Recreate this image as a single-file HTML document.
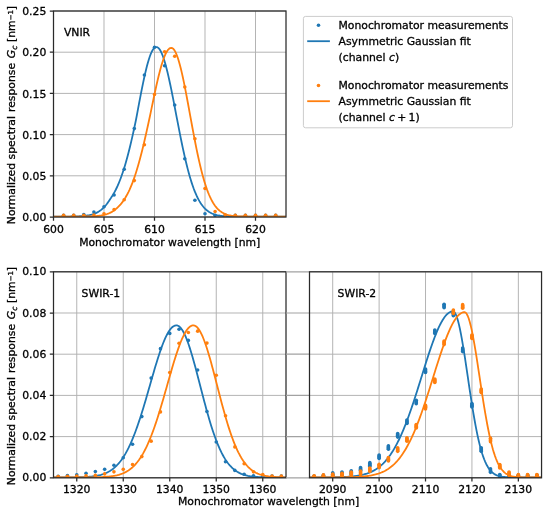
<!DOCTYPE html>
<html lang="en"><head><meta charset="utf-8"><title>Spectral response</title>
<style>html,body{margin:0;padding:0;background:#fff}svg{display:block}text{stroke:#000;stroke-width:.3px}</style></head>
<body>
<svg width="550" height="513" viewBox="0 0 550 513" font-family="'DejaVu Sans', 'Liberation Sans', sans-serif" font-size="10.82" fill="#000">
<rect width="550" height="513" fill="#fff"/>
<clipPath id="ca"><rect x="53.5" y="11" width="232.5" height="206"/></clipPath>
<path d="M53.5 11V217M104 11V217M154.5 11V217M205 11V217M255.5 11V217M53.5 217H286M53.5 175.8H286M53.5 134.6H286M53.5 93.4H286M53.5 52.2H286M53.5 11H286" stroke="#b0b0b0" stroke-width="0.95" fill="none"/>
<path d="M53.5 217v3.7M104 217v3.7M154.5 217v3.7M205 217v3.7M255.5 217v3.7M53.5 217h-3.7M53.5 175.8h-3.7M53.5 134.6h-3.7M53.5 93.4h-3.7M53.5 52.2h-3.7M53.5 11h-3.7" stroke="#2a2a2a" stroke-width="1.25" fill="none"/>
<g clip-path="url(#ca)">
<g fill="#1f77b4"><circle cx="63.6" cy="215.35" r="1.8"/><circle cx="73.7" cy="215.35" r="1.8"/><circle cx="83.8" cy="214.53" r="1.8"/><circle cx="93.9" cy="212.06" r="1.8"/><circle cx="104" cy="206.78" r="1.8"/><circle cx="114.1" cy="195" r="1.8"/><circle cx="124.2" cy="169.21" r="1.8"/><circle cx="134.3" cy="128.58" r="1.8"/><circle cx="144.4" cy="74.94" r="1.8"/><circle cx="154.5" cy="47.26" r="1.8"/><circle cx="164.6" cy="65.8" r="1.8"/><circle cx="174.7" cy="105.02" r="1.8"/><circle cx="184.8" cy="158.74" r="1.8"/><circle cx="194.9" cy="200.19" r="1.8"/><circle cx="205" cy="213.7" r="1.8"/><circle cx="215.1" cy="215.35" r="1.8"/><circle cx="225.2" cy="215.35" r="1.8"/><circle cx="235.3" cy="215.35" r="1.8"/><circle cx="245.4" cy="215.35" r="1.8"/><circle cx="255.5" cy="215.35" r="1.8"/><circle cx="265.6" cy="215.35" r="1.8"/><circle cx="275.7" cy="215.35" r="1.8"/></g>
<path d="M53.5 216.6 L54.47 216.6 L55.45 216.6 L56.42 216.6 L57.39 216.59 L58.36 216.59 L59.34 216.59 L60.31 216.59 L61.28 216.59 L62.26 216.59 L63.23 216.58 L64.2 216.58 L65.17 216.57 L66.15 216.57 L67.12 216.56 L68.09 216.56 L69.06 216.55 L70.04 216.54 L71.01 216.52 L71.98 216.51 L72.96 216.49 L73.93 216.47 L74.9 216.45 L75.87 216.42 L76.85 216.39 L77.82 216.35 L78.79 216.31 L79.77 216.26 L80.74 216.2 L81.71 216.14 L82.68 216.06 L83.66 215.97 L84.63 215.87 L85.6 215.76 L86.58 215.62 L87.55 215.47 L88.52 215.3 L89.49 215.11 L90.47 214.89 L91.44 214.65 L92.41 214.37 L93.38 214.06 L94.36 213.71 L95.33 213.31 L96.3 212.88 L97.28 212.39 L98.25 211.85 L99.22 211.25 L100.19 210.59 L101.17 209.86 L102.14 209.05 L103.11 208.17 L104.09 207.2 L105.06 206.14 L106.03 204.99 L107 203.73 L107.98 202.37 L108.95 200.89 L109.92 199.43 L110.9 198.07 L111.87 196.62 L112.84 195.06 L113.81 193.4 L114.79 191.64 L115.76 189.75 L116.73 187.75 L117.71 185.63 L118.68 183.37 L119.65 180.99 L120.62 178.46 L121.6 175.8 L122.57 172.99 L123.54 170.04 L124.51 166.94 L125.49 163.69 L126.46 160.29 L127.43 156.74 L128.41 153.04 L129.38 149.2 L130.35 145.22 L131.32 141.11 L132.3 136.86 L133.27 132.5 L134.24 128.03 L135.22 123.46 L136.19 118.77 L137.16 113.56 L138.13 108.35 L139.11 103.17 L140.08 98.05 L141.05 93.01 L142.03 88.09 L143 83.32 L143.97 78.72 L144.94 74.34 L145.92 70.19 L146.89 66.3 L147.86 62.71 L148.83 59.43 L149.81 56.5 L150.78 53.93 L151.75 51.75 L152.73 49.96 L153.7 48.59 L154.67 47.64 L155.64 47.12 L156.62 47.04 L157.59 47.37 L158.56 48.12 L159.54 49.27 L160.51 50.82 L161.48 52.75 L162.45 55.06 L163.43 57.72 L164.4 60.72 L165.37 64.03 L166.35 67.64 L167.32 71.51 L168.29 75.63 L169.26 79.97 L170.24 84.5 L171.21 89.19 L172.18 94.01 L173.15 98.93 L174.13 103.93 L175.1 108.99 L176.07 114.07 L177.05 119.14 L178.02 124.19 L178.99 129.19 L179.96 134.12 L180.94 138.97 L181.91 143.71 L182.88 148.32 L183.86 152.8 L184.83 157.13 L185.8 161.3 L186.77 165.31 L187.75 169.14 L188.72 172.79 L189.69 176.26 L190.67 179.54 L191.64 182.64 L192.61 185.56 L193.58 188.29 L194.56 190.85 L195.53 193.23 L196.5 195.45 L197.47 197.5 L198.45 199.39 L199.42 201.14 L200.39 202.74 L201.37 204.2 L202.34 205.54 L203.31 206.76 L204.28 207.86 L205.26 208.86 L206.23 209.77 L207.2 210.58 L208.18 211.31 L209.15 211.96 L210.12 212.54 L211.09 213.06 L212.07 213.51 L213.04 213.92 L214.01 214.28 L214.99 214.59 L215.96 214.87 L216.93 215.11 L217.9 215.32 L218.88 215.51 L219.85 215.67 L220.82 215.81 L221.79 215.93 L222.77 216.03 L223.74 216.12 L224.71 216.19 L225.69 216.26 L226.66 216.31 L227.63 216.36 L228.6 216.4 L229.58 216.43 L230.55 216.46 L231.52 216.48 L232.5 216.5 L233.47 216.52 L234.44 216.54 L235.41 216.55 L236.39 216.56 L237.36 216.56 L238.33 216.57 L239.31 216.58 L240.28 216.58 L241.25 216.58 L242.22 216.59 L243.2 216.59 L244.17 216.59 L245.14 216.59 L246.12 216.59 L247.09 216.6 L248.06 216.6 L249.03 216.6 L250.01 216.6 L250.98 216.6 L251.95 216.6 L252.92 216.6 L253.9 216.6 L254.87 216.6 L255.84 216.6 L256.82 216.6 L257.79 216.6 L258.76 216.6 L259.73 216.6 L260.71 216.6 L261.68 216.6 L262.65 216.6 L263.63 216.6 L264.6 216.6 L265.57 216.6 L266.54 216.6 L267.52 216.6 L268.49 216.6 L269.46 216.6 L270.44 216.6 L271.41 216.6 L272.38 216.6 L273.35 216.6 L274.33 216.6 L275.3 216.6 L276.27 216.6 L277.24 216.6 L278.22 216.6 L279.19 216.6 L280.16 216.6 L281.14 216.6 L282.11 216.6 L283.08 216.6 L284.05 216.6 L285.03 216.6 L286 216.6" stroke="#1f77b4" stroke-width="1.8" fill="none" stroke-linejoin="round" stroke-linecap="square"/>
<g fill="#ff7f0e"><circle cx="63.6" cy="215.35" r="1.8"/><circle cx="73.7" cy="215.35" r="1.8"/><circle cx="83.8" cy="215.35" r="1.8"/><circle cx="93.9" cy="214.94" r="1.8"/><circle cx="104" cy="213.7" r="1.8"/><circle cx="114.1" cy="209.58" r="1.8"/><circle cx="124.2" cy="199.78" r="1.8"/><circle cx="134.3" cy="180.58" r="1.8"/><circle cx="144.4" cy="144.74" r="1.8"/><circle cx="154.5" cy="94.55" r="1.8"/><circle cx="164.6" cy="51.71" r="1.8"/><circle cx="174.7" cy="56.32" r="1.8"/><circle cx="184.8" cy="87.06" r="1.8"/><circle cx="194.9" cy="138.72" r="1.8"/><circle cx="205" cy="188.49" r="1.8"/><circle cx="215.1" cy="211.56" r="1.8"/><circle cx="225.2" cy="214.94" r="1.8"/><circle cx="235.3" cy="215.35" r="1.8"/><circle cx="245.4" cy="215.35" r="1.8"/><circle cx="255.5" cy="215.35" r="1.8"/><circle cx="265.6" cy="215.35" r="1.8"/><circle cx="275.7" cy="215.35" r="1.8"/></g>
<path d="M53.5 216.6 L54.47 216.6 L55.45 216.6 L56.42 216.6 L57.39 216.6 L58.36 216.6 L59.34 216.6 L60.31 216.6 L61.28 216.6 L62.26 216.6 L63.23 216.6 L64.2 216.6 L65.17 216.6 L66.15 216.6 L67.12 216.6 L68.09 216.6 L69.06 216.6 L70.04 216.59 L71.01 216.59 L71.98 216.59 L72.96 216.59 L73.93 216.59 L74.9 216.59 L75.87 216.58 L76.85 216.58 L77.82 216.58 L78.79 216.57 L79.77 216.56 L80.74 216.56 L81.71 216.55 L82.68 216.54 L83.66 216.53 L84.63 216.52 L85.6 216.5 L86.58 216.48 L87.55 216.46 L88.52 216.44 L89.49 216.41 L90.47 216.37 L91.44 216.33 L92.41 216.29 L93.38 216.24 L94.36 216.18 L95.33 216.11 L96.3 216.03 L97.28 215.94 L98.25 215.84 L99.22 215.72 L100.19 215.59 L101.17 215.44 L102.14 215.26 L103.11 215.07 L104.09 214.85 L105.06 214.61 L106.03 214.33 L107 214.02 L107.98 213.68 L108.95 213.29 L109.92 212.87 L110.9 212.39 L111.87 211.86 L112.84 211.28 L113.81 210.64 L114.79 209.93 L115.76 209.15 L116.73 208.3 L117.71 207.36 L118.68 206.39 L119.65 205.39 L120.62 204.31 L121.6 203.14 L122.57 201.88 L123.54 200.52 L124.51 199.07 L125.49 197.5 L126.46 195.82 L127.43 194.03 L128.41 192.11 L129.38 190.07 L130.35 187.9 L131.32 185.6 L132.3 183.16 L133.27 180.58 L134.24 177.86 L135.22 175 L136.19 172 L137.16 168.85 L138.13 165.56 L139.11 162.12 L140.08 158.55 L141.05 154.85 L142.03 151.01 L143 147.05 L143.97 142.98 L144.94 138.8 L145.92 134.52 L146.89 130.16 L147.86 125.72 L148.83 121.23 L149.81 116.69 L150.78 112.12 L151.75 107.43 L152.73 102.7 L153.7 98.03 L154.67 93.44 L155.64 88.95 L156.62 84.57 L157.59 80.34 L158.56 76.29 L159.54 72.42 L160.51 68.77 L161.48 65.35 L162.45 62.19 L163.43 59.3 L164.4 56.7 L165.37 54.42 L166.35 52.45 L167.32 50.83 L168.29 49.54 L169.26 48.62 L170.24 48.05 L171.21 47.85 L172.18 48.05 L173.15 48.71 L174.13 49.81 L175.1 51.36 L176.07 53.34 L177.05 55.73 L178.02 58.52 L178.99 61.67 L179.96 65.18 L180.94 69.01 L181.91 73.12 L182.88 77.51 L183.86 82.12 L184.83 86.93 L185.8 91.91 L186.77 97.02 L187.75 102.23 L188.72 107.52 L189.69 112.84 L190.67 118.16 L191.64 123.47 L192.61 128.73 L193.58 133.91 L194.56 139 L195.53 143.98 L196.5 148.82 L197.47 153.51 L198.45 158.03 L199.42 162.38 L200.39 166.54 L201.37 170.5 L202.34 174.27 L203.31 177.83 L204.28 181.19 L205.26 184.35 L206.23 187.3 L207.2 190.06 L208.18 192.62 L209.15 194.99 L210.12 197.18 L211.09 199.2 L212.07 201.05 L213.04 202.74 L214.01 204.28 L214.99 205.68 L215.96 206.94 L216.93 208.08 L217.9 209.11 L218.88 210.03 L219.85 210.86 L220.82 211.59 L221.79 212.24 L222.77 212.82 L223.74 213.33 L224.71 213.78 L225.69 214.17 L226.66 214.52 L227.63 214.82 L228.6 215.08 L229.58 215.3 L230.55 215.5 L231.52 215.67 L232.5 215.81 L233.47 215.94 L234.44 216.04 L235.41 216.13 L236.39 216.21 L237.36 216.28 L238.33 216.33 L239.31 216.38 L240.28 216.42 L241.25 216.45 L242.22 216.48 L243.2 216.5 L244.17 216.52 L245.14 216.53 L246.12 216.54 L247.09 216.56 L248.06 216.56 L249.03 216.57 L250.01 216.58 L250.98 216.58 L251.95 216.58 L252.92 216.59 L253.9 216.59 L254.87 216.59 L255.84 216.59 L256.82 216.6 L257.79 216.6 L258.76 216.6 L259.73 216.6 L260.71 216.6 L261.68 216.6 L262.65 216.6 L263.63 216.6 L264.6 216.6 L265.57 216.6 L266.54 216.6 L267.52 216.6 L268.49 216.6 L269.46 216.6 L270.44 216.6 L271.41 216.6 L272.38 216.6 L273.35 216.6 L274.33 216.6 L275.3 216.6 L276.27 216.6 L277.24 216.6 L278.22 216.6 L279.19 216.6 L280.16 216.6 L281.14 216.6 L282.11 216.6 L283.08 216.6 L284.05 216.6 L285.03 216.6 L286 216.6" stroke="#ff7f0e" stroke-width="1.8" fill="none" stroke-linejoin="round" stroke-linecap="square"/>
</g>
<rect x="53.5" y="11" width="232.5" height="206" fill="none" stroke="#2a2a2a" stroke-width="1.25"/>
<text x="53.5" y="232.6" text-anchor="middle">600</text>
<text x="104" y="232.6" text-anchor="middle">605</text>
<text x="154.5" y="232.6" text-anchor="middle">610</text>
<text x="205" y="232.6" text-anchor="middle">615</text>
<text x="255.5" y="232.6" text-anchor="middle">620</text>
<text x="46.3" y="221.25" text-anchor="end">0.00</text>
<text x="46.3" y="180.05" text-anchor="end">0.05</text>
<text x="46.3" y="138.85" text-anchor="end">0.10</text>
<text x="46.3" y="97.65" text-anchor="end">0.15</text>
<text x="46.3" y="56.45" text-anchor="end">0.20</text>
<text x="46.3" y="15.25" text-anchor="end">0.25</text>
<text x="63.9" y="35.8">VNIR</text>
<clipPath id="cb"><rect x="53.5" y="271.8" width="232.5" height="206"/></clipPath>
<path d="M76.75 271.8V477.8M123.25 271.8V477.8M169.75 271.8V477.8M216.25 271.8V477.8M262.75 271.8V477.8M53.5 477.8H286M53.5 436.6H286M53.5 395.4H286M53.5 354.2H286M53.5 313H286M53.5 271.8H286" stroke="#b0b0b0" stroke-width="0.95" fill="none"/>
<path d="M76.75 477.8v3.7M123.25 477.8v3.7M169.75 477.8v3.7M216.25 477.8v3.7M262.75 477.8v3.7M53.5 477.8h-3.7M53.5 436.6h-3.7M53.5 395.4h-3.7M53.5 354.2h-3.7M53.5 313h-3.7M53.5 271.8h-3.7" stroke="#2a2a2a" stroke-width="1.25" fill="none"/>
<g clip-path="url(#cb)">
<g fill="#1f77b4"><circle cx="58.15" cy="476.36" r="1.8"/><circle cx="67.45" cy="475.53" r="1.8"/><circle cx="76.75" cy="474.71" r="1.8"/><circle cx="86.05" cy="473.27" r="1.8"/><circle cx="95.35" cy="471.62" r="1.8"/><circle cx="104.65" cy="469.35" r="1.8"/><circle cx="113.95" cy="465.23" r="1.8"/><circle cx="123.25" cy="457.82" r="1.8"/><circle cx="132.55" cy="444.22" r="1.8"/><circle cx="141.85" cy="416.62" r="1.8"/><circle cx="151.15" cy="378.1" r="1.8"/><circle cx="160.45" cy="348.64" r="1.8"/><circle cx="169.75" cy="333.39" r="1.8"/><circle cx="179.05" cy="329.27" r="1.8"/><circle cx="188.35" cy="340.4" r="1.8"/><circle cx="197.65" cy="370.06" r="1.8"/><circle cx="206.95" cy="411.47" r="1.8"/><circle cx="216.25" cy="441.96" r="1.8"/><circle cx="225.55" cy="461.73" r="1.8"/><circle cx="234.85" cy="470.38" r="1.8"/><circle cx="244.15" cy="474.3" r="1.8"/><circle cx="253.45" cy="475.74" r="1.8"/><circle cx="262.75" cy="476.15" r="1.8"/><circle cx="272.05" cy="476.15" r="1.8"/><circle cx="281.35" cy="476.15" r="1.8"/></g>
<path d="M53.5 477.4 L54.47 477.4 L55.45 477.4 L56.42 477.39 L57.39 477.39 L58.36 477.39 L59.34 477.39 L60.31 477.39 L61.28 477.39 L62.26 477.39 L63.23 477.38 L64.2 477.38 L65.17 477.38 L66.15 477.37 L67.12 477.37 L68.09 477.37 L69.06 477.36 L70.04 477.35 L71.01 477.35 L71.98 477.34 L72.96 477.33 L73.93 477.32 L74.9 477.3 L75.87 477.29 L76.85 477.27 L77.82 477.26 L78.79 477.23 L79.77 477.21 L80.74 477.18 L81.71 477.15 L82.68 477.12 L83.66 477.08 L84.63 477.03 L85.6 476.98 L86.58 476.93 L87.55 476.87 L88.52 476.8 L89.49 476.72 L90.47 476.63 L91.44 476.53 L92.41 476.43 L93.38 476.31 L94.36 476.17 L95.33 476.02 L96.3 475.86 L97.28 475.68 L98.25 475.48 L99.22 475.26 L100.19 475.02 L101.17 474.76 L102.14 474.47 L103.11 474.15 L104.09 473.8 L105.06 473.42 L106.03 473.01 L107 472.56 L107.98 472.07 L108.95 471.54 L109.92 470.97 L110.9 470.35 L111.87 469.68 L112.84 468.96 L113.81 468.19 L114.79 467.35 L115.76 466.46 L116.73 465.5 L117.71 464.48 L118.68 463.39 L119.65 462.23 L120.62 460.99 L121.6 459.67 L122.57 458.28 L123.54 456.81 L124.51 455.25 L125.49 453.6 L126.46 451.87 L127.43 450.05 L128.41 448.14 L129.38 446.14 L130.35 444.04 L131.32 441.86 L132.3 439.58 L133.27 437.21 L134.24 434.75 L135.22 432.2 L136.19 429.56 L137.16 426.84 L138.13 424.04 L139.11 421.15 L140.08 418.2 L141.05 415.17 L142.03 412.07 L143 408.91 L143.97 405.7 L144.94 402.44 L145.92 399.14 L146.89 395.8 L147.86 392.43 L148.83 389.05 L149.81 385.66 L150.78 382.26 L151.75 378.87 L152.73 375.5 L153.7 372.16 L154.67 368.86 L155.64 365.6 L156.62 362.41 L157.59 359.28 L158.56 356.23 L159.54 353.27 L160.51 350.41 L161.48 347.66 L162.45 345.03 L163.43 342.53 L164.4 340.17 L165.37 337.96 L166.35 335.9 L167.32 334.01 L168.29 332.29 L169.26 330.75 L170.24 329.39 L171.21 328.23 L172.18 327.26 L173.15 326.48 L174.13 325.91 L175.1 325.54 L176.07 325.38 L177.05 325.44 L178.02 325.75 L178.99 326.31 L179.96 327.12 L180.94 328.19 L181.91 329.49 L182.88 331.03 L183.86 332.79 L184.83 334.78 L185.8 336.97 L186.77 339.36 L187.75 341.94 L188.72 344.7 L189.69 347.62 L190.67 350.68 L191.64 353.89 L192.61 357.21 L193.58 360.64 L194.56 364.17 L195.53 367.77 L196.5 371.43 L197.47 375.15 L198.45 378.9 L199.42 382.67 L200.39 386.46 L201.37 390.23 L202.34 393.99 L203.31 397.73 L204.28 401.42 L205.26 405.07 L206.23 408.65 L207.2 412.17 L208.18 415.61 L209.15 418.97 L210.12 422.24 L211.09 425.41 L212.07 428.48 L213.04 431.45 L214.01 434.31 L214.99 437.07 L215.96 439.7 L216.93 442.23 L217.9 444.64 L218.88 446.94 L219.85 449.12 L220.82 451.19 L221.79 453.16 L222.77 455.01 L223.74 456.75 L224.71 458.39 L225.69 459.93 L226.66 461.37 L227.63 462.72 L228.6 463.98 L229.58 465.15 L230.55 466.24 L231.52 467.24 L232.5 468.18 L233.47 469.04 L234.44 469.83 L235.41 470.56 L236.39 471.23 L237.36 471.84 L238.33 472.4 L239.31 472.91 L240.28 473.38 L241.25 473.8 L242.22 474.19 L243.2 474.54 L244.17 474.85 L245.14 475.14 L246.12 475.39 L247.09 475.62 L248.06 475.83 L249.03 476.01 L250.01 476.18 L250.98 476.32 L251.95 476.46 L252.92 476.57 L253.9 476.68 L254.87 476.77 L255.84 476.85 L256.82 476.92 L257.79 476.98 L258.76 477.04 L259.73 477.09 L260.71 477.13 L261.68 477.17 L262.65 477.2 L263.63 477.23 L264.6 477.25 L265.57 477.27 L266.54 477.29 L267.52 477.31 L268.49 477.32 L269.46 477.33 L270.44 477.34 L271.41 477.35 L272.38 477.36 L273.35 477.36 L274.33 477.37 L275.3 477.37 L276.27 477.38 L277.24 477.38 L278.22 477.39 L279.19 477.39 L280.16 477.39 L281.14 477.39 L282.11 477.39 L283.08 477.39 L284.05 477.39 L285.03 477.4 L286 477.4" stroke="#1f77b4" stroke-width="1.8" fill="none" stroke-linejoin="round" stroke-linecap="square"/>
<g fill="#ff7f0e"><circle cx="58.15" cy="476.56" r="1.8"/><circle cx="67.45" cy="476.36" r="1.8"/><circle cx="76.75" cy="476.15" r="1.8"/><circle cx="86.05" cy="475.74" r="1.8"/><circle cx="95.35" cy="475.33" r="1.8"/><circle cx="104.65" cy="473.89" r="1.8"/><circle cx="113.95" cy="471.83" r="1.8"/><circle cx="123.25" cy="469.35" r="1.8"/><circle cx="132.55" cy="464.62" r="1.8"/><circle cx="141.85" cy="456.58" r="1.8"/><circle cx="151.15" cy="441.13" r="1.8"/><circle cx="160.45" cy="411.88" r="1.8"/><circle cx="169.75" cy="372.53" r="1.8"/><circle cx="179.05" cy="343.28" r="1.8"/><circle cx="188.35" cy="332.57" r="1.8"/><circle cx="197.65" cy="331.13" r="1.8"/><circle cx="206.95" cy="343.08" r="1.8"/><circle cx="216.25" cy="375.21" r="1.8"/><circle cx="225.55" cy="415.79" r="1.8"/><circle cx="234.85" cy="446.9" r="1.8"/><circle cx="244.15" cy="463.79" r="1.8"/><circle cx="253.45" cy="471.83" r="1.8"/><circle cx="262.75" cy="474.5" r="1.8"/><circle cx="272.05" cy="475.95" r="1.8"/><circle cx="281.35" cy="475.95" r="1.8"/></g>
<path d="M53.5 477.4 L54.47 477.4 L55.45 477.4 L56.42 477.4 L57.39 477.4 L58.36 477.4 L59.34 477.4 L60.31 477.4 L61.28 477.4 L62.26 477.4 L63.23 477.4 L64.2 477.4 L65.17 477.4 L66.15 477.4 L67.12 477.4 L68.09 477.4 L69.06 477.4 L70.04 477.4 L71.01 477.4 L71.98 477.4 L72.96 477.4 L73.93 477.4 L74.9 477.39 L75.87 477.39 L76.85 477.39 L77.82 477.39 L78.79 477.39 L79.77 477.39 L80.74 477.39 L81.71 477.38 L82.68 477.38 L83.66 477.38 L84.63 477.37 L85.6 477.37 L86.58 477.36 L87.55 477.36 L88.52 477.35 L89.49 477.34 L90.47 477.33 L91.44 477.32 L92.41 477.31 L93.38 477.3 L94.36 477.28 L95.33 477.27 L96.3 477.25 L97.28 477.22 L98.25 477.2 L99.22 477.17 L100.19 477.13 L101.17 477.1 L102.14 477.05 L103.11 477.01 L104.09 476.95 L105.06 476.89 L106.03 476.83 L107 476.75 L107.98 476.67 L108.95 476.57 L109.92 476.47 L110.9 476.35 L111.87 476.22 L112.84 476.07 L113.81 475.91 L114.79 475.74 L115.76 475.54 L116.73 475.33 L117.71 475.09 L118.68 474.83 L119.65 474.54 L120.62 474.23 L121.6 473.88 L122.57 473.51 L123.54 473.1 L124.51 472.65 L125.49 472.17 L126.46 471.64 L127.43 471.07 L128.41 470.45 L129.38 469.78 L130.35 469.06 L131.32 468.29 L132.3 467.45 L133.27 466.56 L134.24 465.6 L135.22 464.57 L136.19 463.47 L137.16 462.3 L138.13 461.06 L139.11 459.73 L140.08 458.33 L141.05 456.84 L142.03 455.26 L143 453.6 L143.97 451.85 L144.94 450.01 L145.92 448.07 L146.89 446.05 L147.86 443.93 L148.83 441.71 L149.81 439.4 L150.78 437 L151.75 434.51 L152.73 431.92 L153.7 429.25 L154.67 426.48 L155.64 423.64 L156.62 420.71 L157.59 417.71 L158.56 414.64 L159.54 411.5 L160.51 408.3 L161.48 405.04 L162.45 401.74 L163.43 398.39 L164.4 395.01 L165.37 391.6 L166.35 388.18 L167.32 384.75 L168.29 381.32 L169.26 377.9 L170.24 374.5 L171.21 371.13 L172.18 367.81 L173.15 364.54 L174.13 361.33 L175.1 358.19 L176.07 355.14 L177.05 352.18 L178.02 349.34 L178.99 346.6 L179.96 344 L180.94 341.53 L181.91 339.21 L182.88 337.04 L183.86 335.03 L184.83 333.2 L185.8 331.54 L186.77 330.08 L187.75 328.8 L188.72 327.71 L189.69 326.83 L190.67 326.16 L191.64 325.69 L192.61 325.43 L193.58 325.38 L194.56 325.58 L195.53 326.03 L196.5 326.73 L197.47 327.68 L198.45 328.88 L199.42 330.31 L200.39 331.98 L201.37 333.86 L202.34 335.97 L203.31 338.27 L204.28 340.77 L205.26 343.45 L206.23 346.29 L207.2 349.3 L208.18 352.44 L209.15 355.71 L210.12 359.1 L211.09 362.58 L212.07 366.15 L213.04 369.79 L214.01 373.48 L214.99 377.22 L215.96 380.98 L216.93 384.76 L217.9 388.55 L218.88 392.32 L219.85 396.06 L220.82 399.78 L221.79 403.44 L222.77 407.06 L223.74 410.6 L224.71 414.08 L225.69 417.48 L226.66 420.79 L227.63 424 L228.6 427.12 L229.58 430.14 L230.55 433.05 L231.52 435.85 L232.5 438.54 L233.47 441.12 L234.44 443.58 L235.41 445.93 L236.39 448.16 L237.36 450.28 L238.33 452.29 L239.31 454.19 L240.28 455.98 L241.25 457.67 L242.22 459.26 L243.2 460.74 L244.17 462.13 L245.14 463.43 L246.12 464.64 L247.09 465.76 L248.06 466.8 L249.03 467.77 L250.01 468.66 L250.98 469.48 L251.95 470.24 L252.92 470.94 L253.9 471.57 L254.87 472.16 L255.84 472.69 L256.82 473.18 L257.79 473.62 L258.76 474.02 L259.73 474.39 L260.71 474.72 L261.68 475.01 L262.65 475.28 L263.63 475.52 L264.6 475.74 L265.57 475.93 L266.54 476.11 L267.52 476.26 L268.49 476.4 L269.46 476.52 L270.44 476.63 L271.41 476.73 L272.38 476.81 L273.35 476.89 L274.33 476.95 L275.3 477.01 L276.27 477.06 L277.24 477.11 L278.22 477.15 L279.19 477.18 L280.16 477.21 L281.14 477.24 L282.11 477.26 L283.08 477.28 L284.05 477.3 L285.03 477.31 L286 477.33" stroke="#ff7f0e" stroke-width="1.8" fill="none" stroke-linejoin="round" stroke-linecap="square"/>
</g>
<rect x="53.5" y="271.8" width="232.5" height="206" fill="none" stroke="#2a2a2a" stroke-width="1.25"/>
<text x="76.75" y="493.4" text-anchor="middle">1320</text>
<text x="123.25" y="493.4" text-anchor="middle">1330</text>
<text x="169.75" y="493.4" text-anchor="middle">1340</text>
<text x="216.25" y="493.4" text-anchor="middle">1350</text>
<text x="262.75" y="493.4" text-anchor="middle">1360</text>
<text x="46.3" y="481.4" text-anchor="end">0.00</text>
<text x="46.3" y="440.2" text-anchor="end">0.02</text>
<text x="46.3" y="399" text-anchor="end">0.04</text>
<text x="46.3" y="357.8" text-anchor="end">0.06</text>
<text x="46.3" y="316.6" text-anchor="end">0.08</text>
<text x="46.3" y="275.4" text-anchor="end">0.10</text>
<text x="81.6" y="296.8">SWIR-1</text>
<path d="M286 477.8H309.5M286 436.6H309.5M286 395.4H309.5M286 354.2H309.5M286 313H309.5M286 271.8H309.5" stroke="#a2a2a2" stroke-width="1.2" fill="none"/>
<clipPath id="cc"><rect x="309.5" y="271.8" width="232.05" height="206"/></clipPath>
<path d="M332.7 271.8V477.8M379.12 271.8V477.8M425.52 271.8V477.8M471.93 271.8V477.8M518.35 271.8V477.8M309.5 477.8H541.55M309.5 436.6H541.55M309.5 395.4H541.55M309.5 354.2H541.55M309.5 313H541.55M309.5 271.8H541.55" stroke="#b0b0b0" stroke-width="0.95" fill="none"/>
<path d="M332.7 477.8v3.7M379.12 477.8v3.7M425.52 477.8v3.7M471.93 477.8v3.7M518.35 477.8v3.7" stroke="#2a2a2a" stroke-width="1.25" fill="none"/>
<g clip-path="url(#cc)">
<g fill="#1f77b4"><circle cx="314.14" cy="477.39" r="1.8"/><circle cx="314.14" cy="477.08" r="1.8"/><circle cx="314.14" cy="476.77" r="1.8"/><circle cx="314.14" cy="476.46" r="1.8"/><circle cx="314.14" cy="476.15" r="1.8"/><circle cx="323.42" cy="477.14" r="1.8"/><circle cx="323.42" cy="476.65" r="1.8"/><circle cx="323.42" cy="476.15" r="1.8"/><circle cx="323.42" cy="475.66" r="1.8"/><circle cx="323.42" cy="475.16" r="1.8"/><circle cx="332.7" cy="476.25" r="1.8"/><circle cx="332.7" cy="475.38" r="1.8"/><circle cx="332.7" cy="474.5" r="1.8"/><circle cx="332.7" cy="473.63" r="1.8"/><circle cx="332.7" cy="472.75" r="1.8"/><circle cx="341.99" cy="475.43" r="1.8"/><circle cx="341.99" cy="474.56" r="1.8"/><circle cx="341.99" cy="473.68" r="1.8"/><circle cx="341.99" cy="472.8" r="1.8"/><circle cx="341.99" cy="471.93" r="1.8"/><circle cx="351.27" cy="474.19" r="1.8"/><circle cx="351.27" cy="473.32" r="1.8"/><circle cx="351.27" cy="472.44" r="1.8"/><circle cx="351.27" cy="471.57" r="1.8"/><circle cx="351.27" cy="470.69" r="1.8"/><circle cx="360.55" cy="471.11" r="1.8"/><circle cx="360.55" cy="470.23" r="1.8"/><circle cx="360.55" cy="469.35" r="1.8"/><circle cx="360.55" cy="468.48" r="1.8"/><circle cx="360.55" cy="467.6" r="1.8"/><circle cx="369.83" cy="466.16" r="1.8"/><circle cx="369.83" cy="465.29" r="1.8"/><circle cx="369.83" cy="464.41" r="1.8"/><circle cx="369.83" cy="463.53" r="1.8"/><circle cx="369.83" cy="462.66" r="1.8"/><circle cx="379.12" cy="458.54" r="1.8"/><circle cx="379.12" cy="457.66" r="1.8"/><circle cx="379.12" cy="456.79" r="1.8"/><circle cx="379.12" cy="455.91" r="1.8"/><circle cx="379.12" cy="455.04" r="1.8"/><circle cx="388.4" cy="449.27" r="1.8"/><circle cx="388.4" cy="448.39" r="1.8"/><circle cx="388.4" cy="447.52" r="1.8"/><circle cx="388.4" cy="446.64" r="1.8"/><circle cx="388.4" cy="445.77" r="1.8"/><circle cx="397.68" cy="437.12" r="1.8"/><circle cx="397.68" cy="436.24" r="1.8"/><circle cx="397.68" cy="435.36" r="1.8"/><circle cx="397.68" cy="434.49" r="1.8"/><circle cx="397.68" cy="433.61" r="1.8"/><circle cx="406.96" cy="423.52" r="1.8"/><circle cx="406.96" cy="422.64" r="1.8"/><circle cx="406.96" cy="421.77" r="1.8"/><circle cx="406.96" cy="420.89" r="1.8"/><circle cx="406.96" cy="420.02" r="1.8"/><circle cx="416.24" cy="403.74" r="1.8"/><circle cx="416.24" cy="402.87" r="1.8"/><circle cx="416.24" cy="401.99" r="1.8"/><circle cx="416.24" cy="401.12" r="1.8"/><circle cx="416.24" cy="400.24" r="1.8"/><circle cx="425.52" cy="372.43" r="1.8"/><circle cx="425.52" cy="371.56" r="1.8"/><circle cx="425.52" cy="370.68" r="1.8"/><circle cx="425.52" cy="369.8" r="1.8"/><circle cx="425.52" cy="368.93" r="1.8"/><circle cx="434.81" cy="333.5" r="1.8"/><circle cx="434.81" cy="332.62" r="1.8"/><circle cx="434.81" cy="331.75" r="1.8"/><circle cx="434.81" cy="330.87" r="1.8"/><circle cx="434.81" cy="330" r="1.8"/><circle cx="444.09" cy="307.75" r="1.8"/><circle cx="444.09" cy="306.87" r="1.8"/><circle cx="444.09" cy="306" r="1.8"/><circle cx="444.09" cy="305.12" r="1.8"/><circle cx="444.09" cy="304.25" r="1.8"/><circle cx="453.37" cy="315.78" r="1.8"/><circle cx="453.37" cy="314.91" r="1.8"/><circle cx="453.37" cy="314.03" r="1.8"/><circle cx="453.37" cy="313.15" r="1.8"/><circle cx="453.37" cy="312.28" r="1.8"/><circle cx="462.65" cy="351.62" r="1.8"/><circle cx="462.65" cy="350.75" r="1.8"/><circle cx="462.65" cy="349.87" r="1.8"/><circle cx="462.65" cy="349" r="1.8"/><circle cx="462.65" cy="348.12" r="1.8"/><circle cx="471.93" cy="407.04" r="1.8"/><circle cx="471.93" cy="406.16" r="1.8"/><circle cx="471.93" cy="405.29" r="1.8"/><circle cx="471.93" cy="404.41" r="1.8"/><circle cx="471.93" cy="403.54" r="1.8"/><circle cx="481.22" cy="451.33" r="1.8"/><circle cx="481.22" cy="450.45" r="1.8"/><circle cx="481.22" cy="449.58" r="1.8"/><circle cx="481.22" cy="448.7" r="1.8"/><circle cx="481.22" cy="447.83" r="1.8"/><circle cx="490.5" cy="472.34" r="1.8"/><circle cx="490.5" cy="471.47" r="1.8"/><circle cx="490.5" cy="470.59" r="1.8"/><circle cx="490.5" cy="469.71" r="1.8"/><circle cx="490.5" cy="468.84" r="1.8"/><circle cx="499.78" cy="476.98" r="1.8"/><circle cx="499.78" cy="476.36" r="1.8"/><circle cx="499.78" cy="475.74" r="1.8"/><circle cx="499.78" cy="475.12" r="1.8"/><circle cx="499.78" cy="474.5" r="1.8"/><circle cx="509.06" cy="477.14" r="1.8"/><circle cx="509.06" cy="476.65" r="1.8"/><circle cx="509.06" cy="476.15" r="1.8"/><circle cx="509.06" cy="475.66" r="1.8"/><circle cx="509.06" cy="475.16" r="1.8"/><circle cx="518.35" cy="477.14" r="1.8"/><circle cx="518.35" cy="476.65" r="1.8"/><circle cx="518.35" cy="476.15" r="1.8"/><circle cx="518.35" cy="475.66" r="1.8"/><circle cx="518.35" cy="475.16" r="1.8"/><circle cx="527.63" cy="477.14" r="1.8"/><circle cx="527.63" cy="476.65" r="1.8"/><circle cx="527.63" cy="476.15" r="1.8"/><circle cx="527.63" cy="475.66" r="1.8"/><circle cx="527.63" cy="475.16" r="1.8"/><circle cx="536.91" cy="477.14" r="1.8"/><circle cx="536.91" cy="476.65" r="1.8"/><circle cx="536.91" cy="476.15" r="1.8"/><circle cx="536.91" cy="475.66" r="1.8"/><circle cx="536.91" cy="475.16" r="1.8"/></g>
<path d="M309.5 477.4 L310.47 477.39 L311.44 477.39 L312.41 477.39 L313.38 477.39 L314.35 477.39 L315.33 477.39 L316.3 477.39 L317.27 477.39 L318.24 477.38 L319.21 477.38 L320.18 477.38 L321.15 477.38 L322.12 477.37 L323.09 477.37 L324.06 477.36 L325.03 477.36 L326.01 477.35 L326.98 477.35 L327.95 477.34 L328.92 477.33 L329.89 477.33 L330.86 477.32 L331.83 477.31 L332.8 477.29 L333.77 477.28 L334.74 477.26 L335.71 477.25 L336.69 477.23 L337.66 477.21 L338.63 477.19 L339.6 477.16 L340.57 477.13 L341.54 477.1 L342.51 477.07 L343.48 477.03 L344.45 476.99 L345.42 476.94 L346.39 476.89 L347.37 476.83 L348.34 476.77 L349.31 476.7 L350.28 476.62 L351.25 476.54 L352.22 476.45 L353.19 476.35 L354.16 476.24 L355.13 476.13 L356.1 476 L357.08 475.86 L358.05 475.71 L359.02 475.54 L359.99 475.36 L360.96 475.16 L361.93 474.95 L362.9 474.72 L363.87 474.48 L364.84 474.21 L365.81 473.92 L366.78 473.61 L367.76 473.27 L368.73 472.91 L369.7 472.52 L370.67 472.11 L371.64 471.66 L372.61 471.18 L373.58 470.67 L374.55 470.13 L375.52 469.54 L376.49 468.92 L377.46 468.26 L378.44 467.56 L379.41 466.81 L380.38 466.02 L381.35 465.18 L382.32 464.29 L383.29 463.35 L384.26 462.35 L385.23 461.3 L386.2 460.19 L387.17 459.03 L388.14 457.8 L389.12 456.52 L390.09 455.17 L391.06 453.75 L392.03 452.27 L393 450.73 L393.97 449.11 L394.94 447.43 L395.91 445.67 L396.88 443.85 L397.85 441.95 L398.82 439.99 L399.8 437.95 L400.77 435.84 L401.74 433.66 L402.71 431.41 L403.68 429.1 L404.65 426.71 L405.62 424.26 L406.59 421.74 L407.56 419.16 L408.53 416.51 L409.5 413.81 L410.48 411.05 L411.45 408.24 L412.42 405.38 L413.39 402.47 L414.36 399.52 L415.33 396.53 L416.3 393.51 L417.27 390.46 L418.24 387.38 L419.21 384.29 L420.18 381.18 L421.16 378.06 L422.13 374.94 L423.1 371.82 L424.07 368.71 L425.04 365.62 L426.01 362.55 L426.98 359.51 L427.95 356.5 L428.92 353.54 L429.89 350.63 L430.87 347.77 L431.84 344.98 L432.81 342.25 L433.78 339.6 L434.75 337.04 L435.72 334.56 L436.69 332.18 L437.66 329.91 L438.63 327.74 L439.6 325.68 L440.57 323.74 L441.55 321.93 L442.52 320.25 L443.49 318.7 L444.46 317.29 L445.43 316.03 L446.4 314.91 L447.37 313.94 L448.34 313.12 L449.31 312.45 L450.28 311.95 L451.25 311.59 L452.23 311.4 L453.2 311.4 L454.17 311.96 L455.14 313.23 L456.11 315.18 L457.08 317.79 L458.05 321.03 L459.02 324.86 L459.99 329.23 L460.96 334.08 L461.93 339.37 L462.91 345.03 L463.88 351 L464.85 357.22 L465.82 363.62 L466.79 370.13 L467.76 376.71 L468.73 383.28 L469.7 389.8 L470.67 396.22 L471.64 402.49 L472.61 408.56 L473.59 414.42 L474.56 420.02 L475.53 425.35 L476.5 430.38 L477.47 435.11 L478.44 439.53 L479.41 443.63 L480.38 447.41 L481.35 450.88 L482.32 454.05 L483.29 456.93 L484.27 459.53 L485.24 461.87 L486.21 463.96 L487.18 465.82 L488.15 467.46 L489.12 468.91 L490.09 470.17 L491.06 471.28 L492.03 472.24 L493 473.06 L493.97 473.77 L494.95 474.38 L495.92 474.89 L496.89 475.33 L497.86 475.7 L498.83 476.01 L499.8 476.26 L500.77 476.48 L501.74 476.65 L502.71 476.8 L503.68 476.92 L504.66 477.02 L505.63 477.1 L506.6 477.16 L507.57 477.21 L508.54 477.25 L509.51 477.28 L510.48 477.31 L511.45 477.33 L512.42 477.35 L513.39 477.36 L514.36 477.37 L515.34 477.38 L516.31 477.38 L517.28 477.39 L518.25 477.39 L519.22 477.39 L520.19 477.39 L521.16 477.4 L522.13 477.4 L523.1 477.4 L524.07 477.4 L525.04 477.4 L526.02 477.4 L526.99 477.4 L527.96 477.4 L528.93 477.4 L529.9 477.4 L530.87 477.4 L531.84 477.4 L532.81 477.4 L533.78 477.4 L534.75 477.4 L535.72 477.4 L536.7 477.4 L537.67 477.4 L538.64 477.4 L539.61 477.4 L540.58 477.4 L541.55 477.4" stroke="#1f77b4" stroke-width="1.8" fill="none" stroke-linejoin="round" stroke-linecap="square"/>
<g fill="#ff7f0e"><circle cx="314.14" cy="477.31" r="1.8"/><circle cx="314.14" cy="476.93" r="1.8"/><circle cx="314.14" cy="476.56" r="1.8"/><circle cx="314.14" cy="476.19" r="1.8"/><circle cx="314.14" cy="475.82" r="1.8"/><circle cx="323.42" cy="477.06" r="1.8"/><circle cx="323.42" cy="476.5" r="1.8"/><circle cx="323.42" cy="475.95" r="1.8"/><circle cx="323.42" cy="475.39" r="1.8"/><circle cx="323.42" cy="474.83" r="1.8"/><circle cx="332.7" cy="476.89" r="1.8"/><circle cx="332.7" cy="476.21" r="1.8"/><circle cx="332.7" cy="475.53" r="1.8"/><circle cx="332.7" cy="474.85" r="1.8"/><circle cx="332.7" cy="474.17" r="1.8"/><circle cx="341.99" cy="476.65" r="1.8"/><circle cx="341.99" cy="475.78" r="1.8"/><circle cx="341.99" cy="474.92" r="1.8"/><circle cx="341.99" cy="474.05" r="1.8"/><circle cx="341.99" cy="473.19" r="1.8"/><circle cx="351.27" cy="475.64" r="1.8"/><circle cx="351.27" cy="474.76" r="1.8"/><circle cx="351.27" cy="473.89" r="1.8"/><circle cx="351.27" cy="473.01" r="1.8"/><circle cx="351.27" cy="472.13" r="1.8"/><circle cx="360.55" cy="474.61" r="1.8"/><circle cx="360.55" cy="473.73" r="1.8"/><circle cx="360.55" cy="472.86" r="1.8"/><circle cx="360.55" cy="471.98" r="1.8"/><circle cx="360.55" cy="471.11" r="1.8"/><circle cx="369.83" cy="471.52" r="1.8"/><circle cx="369.83" cy="470.64" r="1.8"/><circle cx="369.83" cy="469.77" r="1.8"/><circle cx="369.83" cy="468.89" r="1.8"/><circle cx="369.83" cy="468.01" r="1.8"/><circle cx="379.12" cy="467.81" r="1.8"/><circle cx="379.12" cy="466.93" r="1.8"/><circle cx="379.12" cy="466.06" r="1.8"/><circle cx="379.12" cy="465.18" r="1.8"/><circle cx="379.12" cy="464.31" r="1.8"/><circle cx="388.4" cy="461.01" r="1.8"/><circle cx="388.4" cy="460.14" r="1.8"/><circle cx="388.4" cy="459.26" r="1.8"/><circle cx="388.4" cy="458.38" r="1.8"/><circle cx="388.4" cy="457.51" r="1.8"/><circle cx="397.68" cy="451.33" r="1.8"/><circle cx="397.68" cy="450.45" r="1.8"/><circle cx="397.68" cy="449.58" r="1.8"/><circle cx="397.68" cy="448.7" r="1.8"/><circle cx="397.68" cy="447.83" r="1.8"/><circle cx="406.96" cy="441.24" r="1.8"/><circle cx="406.96" cy="440.36" r="1.8"/><circle cx="406.96" cy="439.48" r="1.8"/><circle cx="406.96" cy="438.61" r="1.8"/><circle cx="406.96" cy="437.73" r="1.8"/><circle cx="416.24" cy="428.05" r="1.8"/><circle cx="416.24" cy="427.18" r="1.8"/><circle cx="416.24" cy="426.3" r="1.8"/><circle cx="416.24" cy="425.42" r="1.8"/><circle cx="416.24" cy="424.55" r="1.8"/><circle cx="425.52" cy="408.89" r="1.8"/><circle cx="425.52" cy="408.02" r="1.8"/><circle cx="425.52" cy="407.14" r="1.8"/><circle cx="425.52" cy="406.27" r="1.8"/><circle cx="425.52" cy="405.39" r="1.8"/><circle cx="434.81" cy="382.52" r="1.8"/><circle cx="434.81" cy="381.65" r="1.8"/><circle cx="434.81" cy="380.77" r="1.8"/><circle cx="434.81" cy="379.9" r="1.8"/><circle cx="434.81" cy="379.02" r="1.8"/><circle cx="444.09" cy="344.62" r="1.8"/><circle cx="444.09" cy="343.75" r="1.8"/><circle cx="444.09" cy="342.87" r="1.8"/><circle cx="444.09" cy="341.99" r="1.8"/><circle cx="444.09" cy="341.12" r="1.8"/><circle cx="453.37" cy="313.51" r="1.8"/><circle cx="453.37" cy="312.64" r="1.8"/><circle cx="453.37" cy="311.76" r="1.8"/><circle cx="453.37" cy="310.89" r="1.8"/><circle cx="453.37" cy="310.01" r="1.8"/><circle cx="462.65" cy="308.16" r="1.8"/><circle cx="462.65" cy="307.28" r="1.8"/><circle cx="462.65" cy="306.41" r="1.8"/><circle cx="462.65" cy="305.53" r="1.8"/><circle cx="462.65" cy="304.66" r="1.8"/><circle cx="471.93" cy="338.44" r="1.8"/><circle cx="471.93" cy="337.57" r="1.8"/><circle cx="471.93" cy="336.69" r="1.8"/><circle cx="471.93" cy="335.81" r="1.8"/><circle cx="471.93" cy="334.94" r="1.8"/><circle cx="481.22" cy="392.62" r="1.8"/><circle cx="481.22" cy="391.74" r="1.8"/><circle cx="481.22" cy="390.87" r="1.8"/><circle cx="481.22" cy="389.99" r="1.8"/><circle cx="481.22" cy="389.12" r="1.8"/><circle cx="490.5" cy="441.65" r="1.8"/><circle cx="490.5" cy="440.77" r="1.8"/><circle cx="490.5" cy="439.9" r="1.8"/><circle cx="490.5" cy="439.02" r="1.8"/><circle cx="490.5" cy="438.15" r="1.8"/><circle cx="499.78" cy="468.01" r="1.8"/><circle cx="499.78" cy="467.14" r="1.8"/><circle cx="499.78" cy="466.26" r="1.8"/><circle cx="499.78" cy="465.39" r="1.8"/><circle cx="499.78" cy="464.51" r="1.8"/><circle cx="509.06" cy="475.43" r="1.8"/><circle cx="509.06" cy="474.56" r="1.8"/><circle cx="509.06" cy="473.68" r="1.8"/><circle cx="509.06" cy="472.8" r="1.8"/><circle cx="509.06" cy="471.93" r="1.8"/><circle cx="518.35" cy="476.98" r="1.8"/><circle cx="518.35" cy="476.36" r="1.8"/><circle cx="518.35" cy="475.74" r="1.8"/><circle cx="518.35" cy="475.12" r="1.8"/><circle cx="518.35" cy="474.5" r="1.8"/><circle cx="527.63" cy="476.98" r="1.8"/><circle cx="527.63" cy="476.36" r="1.8"/><circle cx="527.63" cy="475.74" r="1.8"/><circle cx="527.63" cy="475.12" r="1.8"/><circle cx="527.63" cy="474.5" r="1.8"/><circle cx="536.91" cy="476.98" r="1.8"/><circle cx="536.91" cy="476.36" r="1.8"/><circle cx="536.91" cy="475.74" r="1.8"/><circle cx="536.91" cy="475.12" r="1.8"/><circle cx="536.91" cy="474.5" r="1.8"/></g>
<path d="M309.5 477.4 L310.47 477.4 L311.44 477.4 L312.41 477.4 L313.38 477.4 L314.35 477.4 L315.33 477.4 L316.3 477.4 L317.27 477.4 L318.24 477.4 L319.21 477.4 L320.18 477.4 L321.15 477.4 L322.12 477.39 L323.09 477.39 L324.06 477.39 L325.03 477.39 L326.01 477.39 L326.98 477.39 L327.95 477.39 L328.92 477.39 L329.89 477.38 L330.86 477.38 L331.83 477.38 L332.8 477.38 L333.77 477.37 L334.74 477.37 L335.71 477.36 L336.69 477.36 L337.66 477.35 L338.63 477.35 L339.6 477.34 L340.57 477.33 L341.54 477.33 L342.51 477.32 L343.48 477.31 L344.45 477.29 L345.42 477.28 L346.39 477.26 L347.37 477.25 L348.34 477.23 L349.31 477.21 L350.28 477.19 L351.25 477.16 L352.22 477.13 L353.19 477.1 L354.16 477.07 L355.13 477.03 L356.1 476.99 L357.08 476.94 L358.05 476.89 L359.02 476.83 L359.99 476.77 L360.96 476.7 L361.93 476.62 L362.9 476.54 L363.87 476.45 L364.84 476.35 L365.81 476.24 L366.78 476.13 L367.76 476 L368.73 475.86 L369.7 475.71 L370.67 475.54 L371.64 475.36 L372.61 475.16 L373.58 474.95 L374.55 474.72 L375.52 474.48 L376.49 474.21 L377.46 473.92 L378.44 473.61 L379.41 473.27 L380.38 472.91 L381.35 472.53 L382.32 472.11 L383.29 471.67 L384.26 471.19 L385.23 470.68 L386.2 470.14 L387.17 469.55 L388.14 468.93 L389.12 468.27 L390.09 467.57 L391.06 466.83 L392.03 466.03 L393 465.2 L393.97 464.31 L394.94 463.37 L395.91 462.37 L396.88 461.33 L397.85 460.22 L398.82 459.06 L399.8 457.84 L400.77 456.56 L401.74 455.21 L402.71 453.8 L403.68 452.32 L404.65 450.78 L405.62 449.17 L406.59 447.49 L407.56 445.74 L408.53 443.92 L409.5 442.03 L410.48 440.07 L411.45 438.04 L412.42 435.94 L413.39 433.77 L414.36 431.53 L415.33 429.22 L416.3 426.84 L417.27 424.4 L418.24 421.89 L419.21 419.31 L420.18 416.68 L421.16 413.99 L422.13 411.24 L423.1 408.44 L424.07 405.59 L425.04 402.7 L426.01 399.76 L426.98 396.79 L427.95 393.78 L428.92 390.74 L429.89 387.68 L430.87 384.59 L431.84 381.5 L432.81 378.4 L433.78 375.29 L434.75 372.19 L435.72 369.1 L436.69 366.02 L437.66 362.97 L438.63 359.94 L439.6 356.96 L440.57 354.01 L441.55 351.11 L442.52 348.27 L443.49 345.5 L444.46 342.79 L445.43 340.16 L446.4 337.61 L447.37 335.15 L448.34 332.79 L449.31 330.53 L450.28 328.37 L451.25 326.33 L452.23 324.41 L453.2 322.62 L454.17 320.95 L455.14 319.42 L456.11 318.02 L457.08 316.77 L458.05 315.66 L459.02 314.7 L459.99 313.9 L460.96 313.24 L461.93 312.75 L462.91 312.4 L463.88 312.22 L464.85 312.23 L465.82 312.81 L466.79 314.06 L467.76 315.98 L468.73 318.53 L469.7 321.69 L470.67 325.42 L471.64 329.67 L472.61 334.4 L473.59 339.55 L474.56 345.06 L475.53 350.88 L476.5 356.94 L477.47 363.18 L478.44 369.55 L479.41 375.99 L480.38 382.43 L481.35 388.84 L482.32 395.15 L483.29 401.33 L484.27 407.34 L485.24 413.13 L486.21 418.7 L487.18 424 L488.15 429.02 L489.12 433.76 L490.09 438.19 L491.06 442.32 L492.03 446.14 L493 449.66 L493.97 452.89 L494.95 455.83 L495.92 458.5 L496.89 460.9 L497.86 463.06 L498.83 464.99 L499.8 466.7 L500.77 468.22 L501.74 469.55 L502.71 470.72 L503.68 471.73 L504.66 472.62 L505.63 473.38 L506.6 474.03 L507.57 474.59 L508.54 475.07 L509.51 475.47 L510.48 475.81 L511.45 476.1 L512.42 476.34 L513.39 476.53 L514.36 476.7 L515.34 476.83 L516.31 476.95 L517.28 477.04 L518.25 477.11 L519.22 477.17 L520.19 477.22 L521.16 477.26 L522.13 477.29 L523.1 477.31 L524.07 477.33 L525.04 477.35 L526.02 477.36 L526.99 477.37 L527.96 477.38 L528.93 477.38 L529.9 477.39 L530.87 477.39 L531.84 477.39 L532.81 477.39 L533.78 477.4 L534.75 477.4 L535.72 477.4 L536.7 477.4 L537.67 477.4 L538.64 477.4 L539.61 477.4 L540.58 477.4 L541.55 477.4" stroke="#ff7f0e" stroke-width="1.8" fill="none" stroke-linejoin="round" stroke-linecap="square"/>
</g>
<rect x="309.5" y="271.8" width="232.05" height="206" fill="none" stroke="#2a2a2a" stroke-width="1.25"/>
<text x="332.7" y="493.4" text-anchor="middle">2090</text>
<text x="379.12" y="493.4" text-anchor="middle">2100</text>
<text x="425.52" y="493.4" text-anchor="middle">2110</text>
<text x="471.93" y="493.4" text-anchor="middle">2120</text>
<text x="518.35" y="493.4" text-anchor="middle">2130</text>
<text x="337.6" y="296.8">SWIR-2</text>
<text transform="translate(15.3 224.2) rotate(-90)">Normalized spectral<tspan dx="0.6"> </tspan>response<tspan dx="1.3"> </tspan><tspan font-style="italic">G</tspan><tspan font-style="italic" font-size="7.5" dy="2">c</tspan><tspan dy="-2" dx="0.2"> [nm</tspan><tspan font-size="6.9" dy="-2.6">−1</tspan><tspan dy="2.6">]</tspan></text>
<text transform="translate(15.3 485.2) rotate(-90)">Normalized spectral<tspan dx="0.6"> </tspan>response<tspan dx="1.3"> </tspan><tspan font-style="italic">G</tspan><tspan font-style="italic" font-size="7.5" dy="2">c</tspan><tspan dy="-2" dx="0.2"> [nm</tspan><tspan font-size="6.9" dy="-2.6">−1</tspan><tspan dy="2.6">]</tspan></text>
<text x="169.75" y="245.9" text-anchor="middle">Monochromator wavelength [nm]</text>
<text x="268.6" y="505.1" text-anchor="middle">Monochromator wavelength [nm]</text>
<rect x="303.4" y="16.4" width="209.1" height="111.4" rx="2.2" fill="#fff" fill-opacity="0.8" stroke="#ccc" stroke-width="1"/>
<circle cx="318.5" cy="25.3" r="1.8" fill="#1f77b4"/>
<path d="M307.2 41.2H329.9" stroke="#1f77b4" stroke-width="1.8"/>
<circle cx="318.5" cy="85.5" r="1.8" fill="#ff7f0e"/>
<path d="M307.2 101.2H329.9" stroke="#ff7f0e" stroke-width="1.8"/>
<text x="338.5" y="29">Monochromator measurements</text>
<text x="338.5" y="45">Asymmetric Gaussian fit</text>
<text x="338.5" y="60.7">(channel <tspan font-style="italic">c</tspan>)</text>
<text x="338.5" y="89.3">Monochromator measurements</text>
<text x="338.5" y="105">Asymmetric Gaussian fit</text>
<text x="338.5" y="120.7">(channel <tspan font-style="italic">c</tspan><tspan dx="2.3">+</tspan><tspan dx="2.3">1)</tspan></text>
</svg>
</body></html>
